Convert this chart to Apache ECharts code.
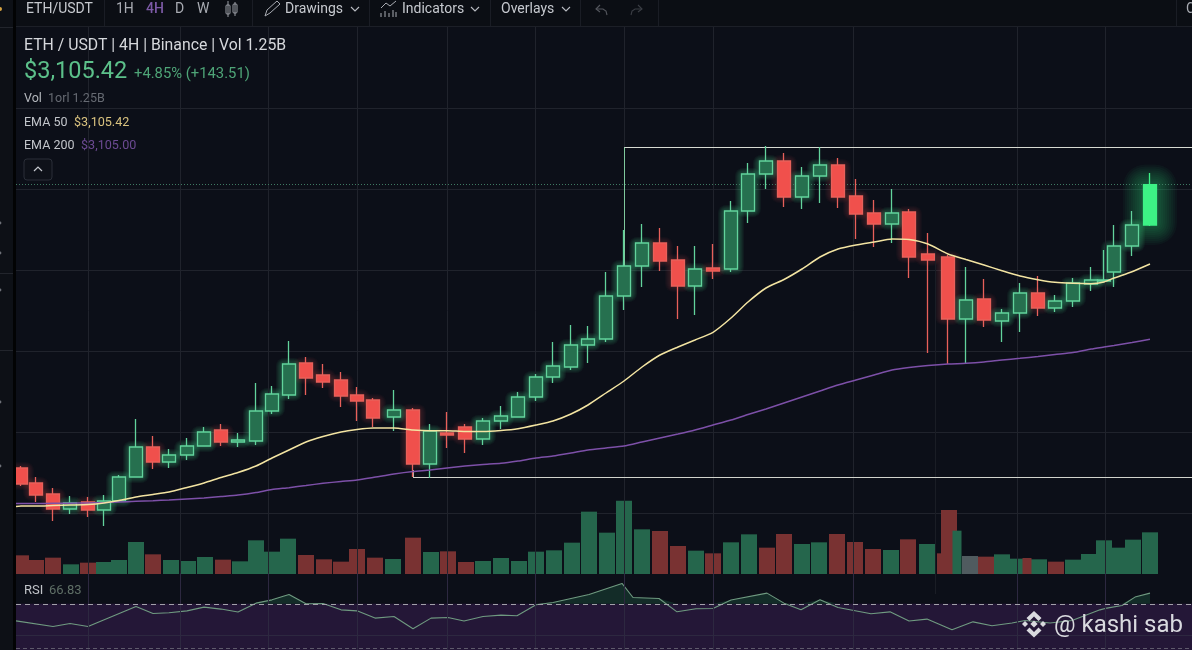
<!DOCTYPE html>
<html>
<head>
<meta charset="utf-8">
<style>html,body{margin:0;padding:0;background:#0c0f18}#c{width:1192px;height:650px}</style>
<script src="https://cdn.jsdelivr.net/npm/echarts@6/dist/echarts.min.js"></script>
</head>
<body>
<div id="c"></div>
<script>
// ---- data ----
const barTimes = [21,36,53,70,88,104,119,136,153,169,
187,204,221,238,256,272,289,306,323,341,
357,373,394,413,430,447,465,483,501,518,
536,553,571,588,606,624,642,660,678,695,
713,731,748,766,784,802,820,838,856,874,
892,909,928,948,966,984,1002,1020,1038,1055,
1073,1091,1104,1114,1132,1150];
const opens = [2822,2807,2796,2781,2788,2780,2789,2813,2843,2828,
2835,2844,2860,2848,2849,2879,2895,2927,2915,2910,
2895,2890,2873,2880,2826,2857,2863,2851,2869,2873,
2893,2913,2923,2945,2951,2994,3024,3047,3030,3004,
3022,3021,3079,3116,3129,3093,3114,3125,3094,3077,
3066,3078,3036,3033,2971,2991,2969,2977,2997,2982,
2989,3006,3009,3018,3044,3065];
const closes = [2806,2795,2781,2787,2780,2789,2813,2843,2828,2835,
2844,2858,2848,2850,2879,2896,2926,2912,2908,2894,
2889,2872,2880,2826,2859,2855,2851,2869,2874,2893,
2913,2924,2945,2951,2994,3024,3047,3029,3004,3021,
3019,3079,3116,3129,3093,3114,3125,3093,3076,3066,
3077,3033,3030,2971,2990,2970,2977,2997,2982,2989,
3007,3010,3010,3044,3065,3105.42];
const lows = [2804,2788,2769,2776,2773,2764,2789,2813,2821,2822,
2830,2844,2844,2843,2845,2876,2891,2895,2902,2883,
2869,2863,2859,2813,2812,2842,2837,2845,2861,2873,
2889,2907,2920,2927,2948,2980,3003,3019,2971,2975,
3011,3018,3067,3101,3083,3081,3087,3082,3051,3043,
3047,3012,2937,2926,2927,2963,2948,2958,2974,2978,
2983,2999,3009,3003,3034,3064];
const highs = [2824,2813,2802,2794,2793,2795,2815,2871,2854,2841,
2852,2863,2866,2857,2907,2904,2949,2933,2926,2918,
2903,2892,2900,2882,2866,2878,2866,2872,2884,2898,
2916,2948,2965,2964,3018,3060,3066,3062,3044,3044,
3046,3089,3127,3144,3137,3123,3143,3132,3111,3090,
3101,3081,3057,3035,3023,3011,2981,3007,3014,2995,
3012,3023,3040,3065,3079,3117];
const ema50 = [2784,2784,2784.5,2785,2785.5,2787,2789.5,2793,2795.5,2798,
2802.5,2807,2812.5,2817.5,2824,2832,2840,2848,2853.5,2858,
2860.5,2862,2862,2860,2859.3,2859.3,2858.5,2858.5,2859.5,2861.3,
2865,2869,2876,2885,2897,2909,2923,2935,2943,2950,
2957.7,2972,2988,3002,3010.5,3021,3033,3041,3045,3048,
3051,3050.5,3046,3036,3030.5,3025,3019.3,3014,3010.3,3007.7,
3006.7,3006.3,3008,3012,3018.3,3026];
const ema200 = [2786.5,2786.5,2786.7,2786.8,2787,2787.3,2788,2788.7,2789.3,2790,
2791,2792,2793.5,2795,2797.5,2800.5,2802.3,2804.5,2806.7,2808.5,
2810,2812.5,2816,2818.5,2820,2822,2824,2825.5,2826.7,2829,
2832,2834,2837,2840,2842,2844,2848,2852,2856,2860,
2865,2870,2875.5,2881,2887,2893,2899,2905,2910,2915,
2920,2922.5,2924.5,2926,2926.7,2928,2930,2931.7,2933.5,2935.5,
2937.5,2941,2943,2944.5,2947.5,2950.7];
const emaLeadTime = 16, ema50Lead = 2783.5, ema200Lead = 2786.5;

const volTimes = [21,36,53,71,88,104,119,136,153,171,
188,205,223,240,256,272,288,306,324,341,
357,375,393,413,431,448,466,483,501,519,
536,554,572,589,607,624,642,660,678,696,
713,731,749,767,784,802,819,837,855,873,
891,908,927,945,949,970,986,1002,1016,1039,
1056,1073,1089,1104,1119,1133,1150];
const volValues = [.56,.42,.49,.29,.34,.36,.42,.96,.59,.42,
.39,.51,.43,.38,1.01,.67,1.06,.57,.44,.37,
.75,.49,.45,1.09,.66,.68,.36,.39,.48,.39,
.67,.71,.94,1.87,1.24,2.20,1.34,1.29,.84,.70,
.62,.95,1.19,.79,1.20,.90,.95,1.20,.96,.75,
.72,1.04,.90,.62,1.92,.54,.52,.59,.46,.44,
.37,.43,.60,1.01,.79,1.03,1.25];
const volSides = ['d','d','d','u','d','u','u','u','d','u',
'u','u','d','u','u','u','u','d','d','d',
'd','d','u','d','u','d','d','u','u','u',
'u','u','u','u','u','u','u','d','d','u',
'd','u','u','d','d','u','u','d','d','d',
'u','d','u','d','d','n','d','u','u','u',
'd','u','u','u','u','u','u'];
const thinVolTimes = [957,1027];
const thinVolValues = [1.30,.48];
const thinVolSides = ['u','d'];

const rsiTimes = [16,53,70,88,136,153,169,187,204,221,238,256,272,289,306,323,341,357,375,394,
413,431,448,464,483,501,517,536,553,589,622,633,659,677,696,713,731,767,784,
801,820,838,871,890,909,927,952,973,992,1012,1025,1050,1072,1100,1107,1122,1135,1150];
const rsiValues = [54.5,49.4,52.1,49.4,67.5,61.2,61.8,63.6,67,65.2,62.5,70.6,73.6,78.5,70,70.3,64.5,63.6,57,58.5,
47.3,57,57.5,54.3,58.5,59.7,59.1,69.1,71.2,78.5,88.5,75.7,74.8,62.7,65.5,65.7,73.4,79.7,70.6,
64.5,73.6,66.6,60.9,62.7,54.3,56.1,46.4,53.6,50,52.5,54.8,52.5,54.8,64.5,66.1,68.5,76.1,79.7];
const rsiUpper = 70, rsiLower = 30, rsiMid = 41;

const lastPrice = 3105.42;
const zoneHigh = 3142.5, zoneLow = 2813;
const zoneHighStart = 624, zoneLowStart = 413, chartEnd = 1192, chartStart = 16;
const zoneHighFoot = 3024, zoneLowFoot = 2820;
const gridTimes = [88,180,268,357,447,535,624,713,853,1017,1105];
const faintGridTime = 935, faintGridTop = 3040;

const GREEN_BODY='#26704f', GREEN_EDGE='#62d39c', RED_BODY='#f0504c', RED_EDGE='#e8605a', LAST_GREEN='#3df285';
const VOL_COL={u:'#25664c',d:'#793232',n:'#505b5f'};
const GRID='#20232c';
const BG='#0c0f18';

const candleRows = barTimes.map((t,i)=>{
  const row={value:[t,opens[i],closes[i],lows[i],highs[i]]};
  if(i===barTimes.length-1) row.itemStyle={color:LAST_GREEN,borderColor:LAST_GREEN};
  return row;
});

const gridLineData = gridTimes.map(x=>({xAxis:x}));
const gridLineStyle={color:GRID,width:1,type:'solid'};
function line(points,color,width,type){
  return [{coord:points[0],lineStyle:{color,width,type:type||'solid'}},{coord:points[1]}];
}

const xA = (gridIndex)=>({type:'value',gridIndex,min:chartStart,max:chartEnd,show:false});

// ---- page furniture ----
const FONT='Roboto, "Open Sans", sans-serif';
const G=[];
function txt(text,x,y,size,fill,weight){G.push({type:'text',z:100,silent:true,style:{text,x,y:y+1.5,fill,font:(weight||'normal')+' '+size+'px '+FONT,verticalAlign:'middle',align:'left'}});}
function rect(x,y,w,h,fill,r,stroke){G.push({type:'rect',z:90,silent:true,shape:{x,y,width:w,height:h,r:r||0},style:{fill:fill||'transparent',stroke:stroke||null,lineWidth:stroke?1:0}});}
function poly(pts,stroke,w){G.push({type:'polyline',z:100,silent:true,shape:{points:pts},style:{stroke,fill:null,lineWidth:w||1.1}});}
function diamond(cx,cy,r,fill){G.push({type:'polygon',z:101,silent:true,shape:{points:[[cx-r,cy],[cx,cy-r],[cx+r,cy],[cx,cy+r]]},style:{fill}});}
function chev(x,y,up){poly(up?[[x-4,y+2],[x,y-2],[x+4,y+2]]:[[x-4,y-2],[x,y+2],[x+4,y-2]],'#b9bcc2',1.1);}

rect(0,0,1192,26,'#0b0e14');
rect(0,26,1192,1,'#1c1f27');
rect(0,0,13,650,'#0d1016');
rect(13,0,3,650,'#020304');
rect(0,273,13,1,'#22252c');rect(0,350,13,1,'#22252c');rect(0,27,13,1,'#22252c');
G.push({type:'circle',z:100,silent:true,shape:{cx:0,cy:9,r:2},style:{fill:'#d9a441'}});
[223,253,290,402,466].forEach(y=>G.push({type:'circle',z:100,silent:true,shape:{cx:0,cy:y,r:1.4},style:{fill:'#6d7077'}}));
[104,252,369,490,580,658,1176].forEach(x=>rect(x,0,1,26,'#1a1d25'));

const TB='#c6c9cf';
txt('ETH/USDT',26,7.5,14,TB);
txt('1H',116,7.5,14,'#a9acb3');
txt('4H',146,7.5,14,'#7c5aa6','500');
txt('D',175,7.5,14,'#a9acb3');
txt('W',197,7.5,14,'#a9acb3');
poly([[228,1],[228,17]],'#9a9da4',1);poly([[235,2],[235,16]],'#9a9da4',1);
rect(226,5,4,9,'#0b0e14',1,'#9a9da4');rect(233,4,4,9,'#0b0e14',1,'#9a9da4');
poly([[265,16],[267,10],[277,1],[280,4],[270,13],[265,16]],'#a9acb3',1);
txt('Drawings',285,7.5,14,TB);chev(355,9);
poly([[381,8],[386,3],[390,6],[396,1]],'#a9acb3',1);
poly([[381,17],[381,13]],'#a9acb3',1);poly([[385,17],[385,11]],'#a9acb3',1);poly([[389,17],[389,13]],'#a9acb3',1);poly([[393,17],[393,10]],'#a9acb3',1);poly([[396,17],[396,12]],'#a9acb3',1);
txt('Indicators',402,7.5,14,TB);chev(475,9);
txt('Overlays',501,7.5,14,TB);chev(566,9);
poly([[600,5],[596,9],[600,12]],'#54575e',1.1);poly([[596,9],[603,9],[606,11],[607,15]],'#54575e',1.1);
poly([[638,5],[642,9],[638,12]],'#3b3e45',1.1);poly([[642,9],[635,9],[632,11],[631,15]],'#3b3e45',1.1);
txt('C',1186,7.5,14,'#a9acb3');

txt('ETH / USDT | 4H | Binance | Vol 1.25B',24,45,15.8,'#d6d8dc');
txt('$3,105.42',24,71,23.5,'#5cc08a');
txt('+4.85% (+143.51)',134,73,14.8,'#4ea477');
txt('Vol',24,97.5,12.5,'#b4b7bc');
txt('1orl 1.25B',48,97.5,12.5,'#666a72');
txt('EMA 50',24,121,12.5,'#c2c5ca');
txt('$3,105.42',74,121,12.6,'#d9c27f');
txt('EMA 200',24,144.5,12.5,'#c2c5ca');
txt('$3,105.00',81,144.5,12.6,'#6c4a92');
rect(24,159,28,21,'#0e1119',3,'#2a2e38');
poly([[34,171],[38,167],[42,171]],'#c6c9cf',1.2);
txt('RSI',24,589,13,'#c0c3c8');
txt('66.83',49,589,13,'#5f6f66');

// watermark
const WM='#d9dadf';
diamond(1034,624,3.6,WM);diamond(1025,624,3,WM);diamond(1043,624,3,WM);
G.push({type:'polygon',z:101,silent:true,shape:{points:[[1034,611],[1041.5,618],[1038.5,621],[1034,616.5],[1029.5,621],[1026.5,618]]},style:{fill:WM}});
G.push({type:'polygon',z:101,silent:true,shape:{points:[[1034,637.5],[1041.5,630.5],[1038.5,627.5],[1034,632],[1029.5,627.5],[1026.5,630.5]]},style:{fill:WM}});
txt('@ kashi sab',1054,624,24,WM);

// glow halo: stacked translucent rounded rectangles round each candle body
function glowLayers(a,b,isLast,isDown){
  const pads=isLast?[20,18,16,14,12,10,8,6,4,2]:[6,5,4,3,2,1];
  const rgb=isLast?'61,242,133':(isDown?'240,80,76':'80,230,160');
  const alpha=isLast?0.035:(isDown?0.035:0.05);
  return pads.map(p=>({type:'rect',shape:{x:a[0]-7-p,y:a[1]-p,width:14+2*p,height:Math.max(b[1]-a[1],1)+2*p,r:p+2},
    style:{fill:'rgba('+rgb+','+alpha+')'}}));
}

// ---- chart ----
const chart=echarts.init(document.getElementById('c'),null,{renderer:'canvas'});
chart.setOption({
  animation:false,
  backgroundColor:BG,
  graphic:G,
  grid:[
    {left:16,right:0,top:27,height:567},
    {left:16,right:0,top:494,height:80},
    {left:16,right:0,top:573,height:77}
  ],
  xAxis:[xA(0),xA(1),xA(2),xA(1)],
  yAxis:[
    {type:'value',gridIndex:0,min:2696,max:3263,show:false},
    {type:'value',gridIndex:0,min:0,max:7,interval:1,axisLine:{show:false},axisTick:{show:false},axisLabel:{show:false},
     splitLine:{show:true,showMinLine:false,showMaxLine:false,lineStyle:{color:GRID,width:1}}},
    {type:'value',gridIndex:1,min:0,max:2.4,show:false},
    {type:'value',gridIndex:2,min:28,max:98,show:false}
  ],
  series:[
    {name:'Grid',type:'line',xAxisIndex:0,yAxisIndex:0,z:1,data:[[chartStart,lastPrice]],symbol:'none',lineStyle:{opacity:0},
     markLine:{silent:true,symbol:'none',label:{show:false},animation:false,lineStyle:gridLineStyle,
       data:[...gridLineData,
         line([[faintGridTime,faintGridTop],[faintGridTime,2696]],'#1a1d25',1)]}},
    {name:'Volume',type:'bar',xAxisIndex:1,yAxisIndex:2,barWidth:16,z:2,
     data:volTimes.map((t,i)=>[t,volValues[i]]),
     itemStyle:{color:p=>VOL_COL[volSides[p.dataIndex]]}},
    {name:'Volume thin',type:'bar',xAxisIndex:3,yAxisIndex:2,barWidth:9,z:3,
     data:thinVolTimes.map((t,i)=>[t,thinVolValues[i]]),
     itemStyle:{color:p=>VOL_COL[thinVolSides[p.dataIndex]]}},
    {name:'Glow',type:'custom',xAxisIndex:0,yAxisIndex:0,z:4,silent:true,clip:true,
     data:barTimes.map((t,i)=>[t,opens[i],closes[i]]),
     encode:{x:0,y:[1,2]},
     renderItem:(params,api)=>{
       const t=api.value(0),o=api.value(1),c=api.value(2);
       const a=api.coord([t,Math.max(o,c)]),b=api.coord([t,Math.min(o,c)]);
       return {type:'group',children:glowLayers(a,b,params.dataIndex===barTimes.length-1,c<o)};
     }},
    {name:'ETH/USDT',type:'candlestick',xAxisIndex:0,yAxisIndex:0,z:5,barWidth:14,
     encode:{x:0,y:[1,2,3,4]},
     data:candleRows,
     itemStyle:{color:GREEN_BODY,color0:RED_BODY,borderColor:GREEN_EDGE,borderColor0:RED_EDGE,borderWidth:1.3}},
    {name:'EMA 200',type:'line',xAxisIndex:0,yAxisIndex:0,z:6,showSymbol:false,smooth:0.2,
     data:[[emaLeadTime,ema200Lead],...barTimes.map((t,i)=>[t,ema200[i]])],
     lineStyle:{color:'#7d50a8',width:1.5}},
    {name:'EMA 50',type:'line',xAxisIndex:0,yAxisIndex:0,z:7,showSymbol:false,smooth:0.2,
     data:[[emaLeadTime,ema50Lead],...barTimes.map((t,i)=>[t,ema50[i]])],
     lineStyle:{color:'#f3e4a2',width:1.5}},
    {name:'Levels',type:'line',xAxisIndex:0,yAxisIndex:0,z:8,data:[[chartStart,lastPrice]],symbol:'none',lineStyle:{opacity:0},
     markLine:{silent:true,symbol:'none',label:{show:false},animation:false,
       data:[
         line([[chartStart,lastPrice],[chartEnd,lastPrice]],'#3f7a62',1,[1,2]),
         line([[zoneHighStart,zoneHigh],[chartEnd,zoneHigh]],'#d7dad2',1.2),
         line([[zoneHighStart,zoneHighFoot],[zoneHighStart,zoneHigh]],'#7fc99d',1),
         line([[zoneLowStart,zoneLow],[chartEnd,zoneLow]],'#d2d4cd',1.2),
         line([[zoneLowStart,zoneLowFoot],[zoneLowStart,zoneLow]],'#b8bab2',1)
       ]}},
    {name:'RSI band',type:'line',xAxisIndex:2,yAxisIndex:3,z:1,data:[[chartStart,rsiUpper]],symbol:'none',lineStyle:{opacity:0},
     markArea:{silent:true,itemStyle:{color:'#241737'},data:[[{yAxis:rsiUpper},{yAxis:28}]]},
     markLine:{silent:true,symbol:'none',label:{show:false},animation:false,lineStyle:{color:'#2d2840',width:1,type:'solid'},
       data:[...gridLineData,{yAxis:rsiMid}]}},
    {name:'RSI above',type:'line',xAxisIndex:2,yAxisIndex:3,z:2,showSymbol:false,
     data:rsiTimes.map((t,i)=>[t,Math.max(rsiValues[i],rsiUpper)]),
     lineStyle:{opacity:0},areaStyle:{origin:rsiUpper,color:'#14302a',opacity:.9}},
    {name:'RSI',type:'line',xAxisIndex:2,yAxisIndex:3,z:3,showSymbol:false,
     data:rsiTimes.map((t,i)=>[t,rsiValues[i]]),
     lineStyle:{color:'#6f9a80',width:1.1},
     markLine:{silent:true,symbol:'none',label:{show:false},animation:false,
       data:[{yAxis:rsiUpper,lineStyle:{color:'#a3a1aa',width:1,type:[5,4]}},{yAxis:rsiLower,lineStyle:{color:'#5f5a6c',width:1,type:[4,3]}}]}}
  ]
});
</script>
</body>
</html>
